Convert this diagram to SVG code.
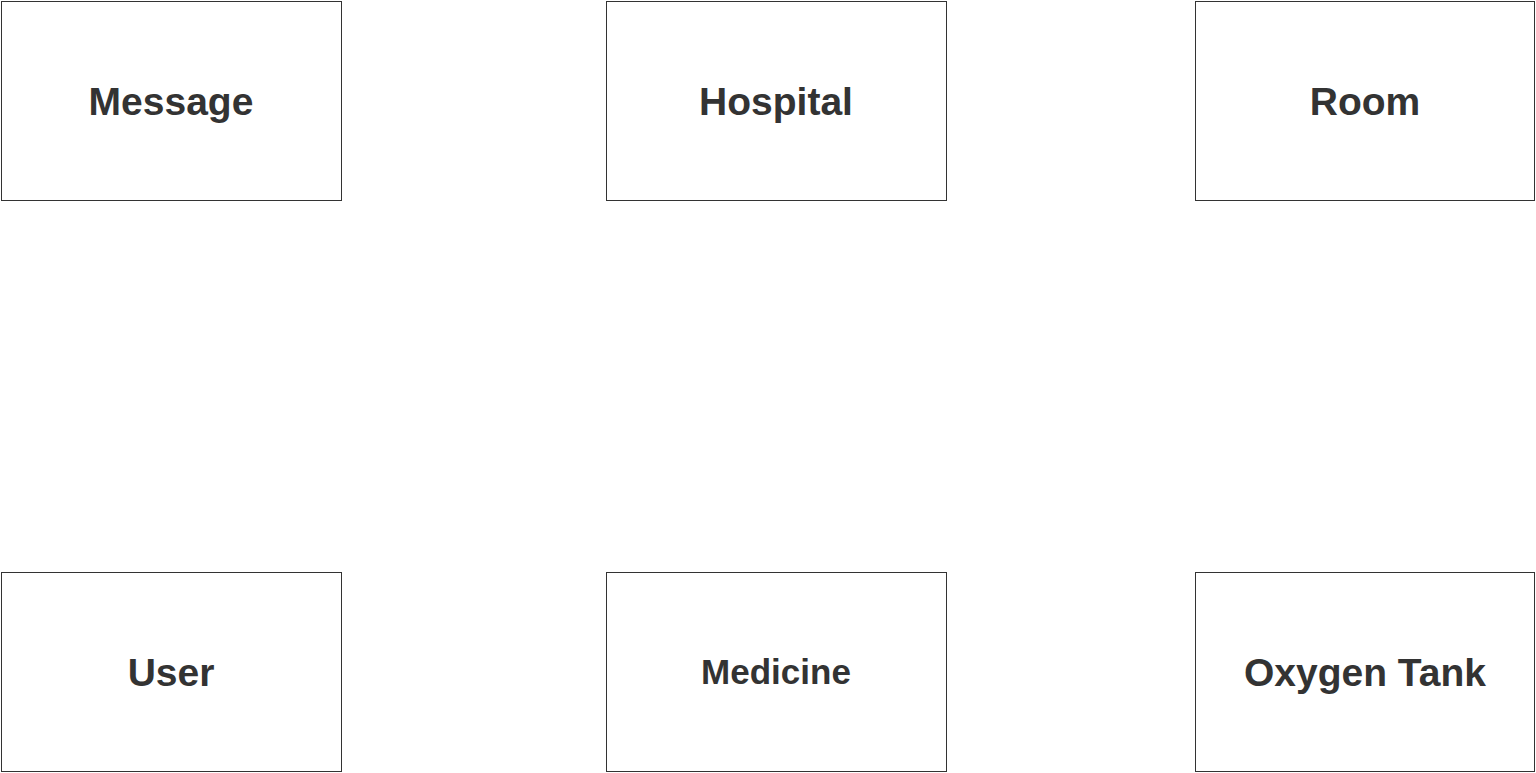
<svg xmlns="http://www.w3.org/2000/svg" width="1536" height="773" viewBox="0 0 1536 773">
<style>
.box{fill:#fff;stroke:#333;stroke-width:1}
.lbl{font-family:"Liberation Sans",Arial,sans-serif;font-weight:bold;font-size:39px;fill:#333;text-anchor:middle}
.sm{font-size:35px}
</style>
<rect width="1536" height="773" fill="#fff"/>
<g id="connectors"></g>
<g id="message"><rect class="box" x="1.5" y="1.5" width="340" height="199"/><text class="lbl" x="171" y="115">Message</text></g>
<g id="hospital"><rect class="box" x="606.5" y="1.5" width="340" height="199"/><text class="lbl" x="776" y="115">Hospital</text></g>
<g id="room"><rect class="box" x="1195.5" y="1.5" width="339" height="199"/><text class="lbl" x="1365" y="115">Room</text></g>
<g id="user"><rect class="box" x="1.5" y="572.5" width="340" height="199"/><text class="lbl" x="171" y="686">User</text></g>
<g id="medicine"><rect class="box" x="606.5" y="572.5" width="340" height="199"/><text class="lbl sm" x="776" y="684">Medicine</text></g>
<g id="oxygen-tank"><rect class="box" x="1195.5" y="572.5" width="339" height="199"/><text class="lbl" x="1365" y="686">Oxygen Tank</text></g>
</svg>
